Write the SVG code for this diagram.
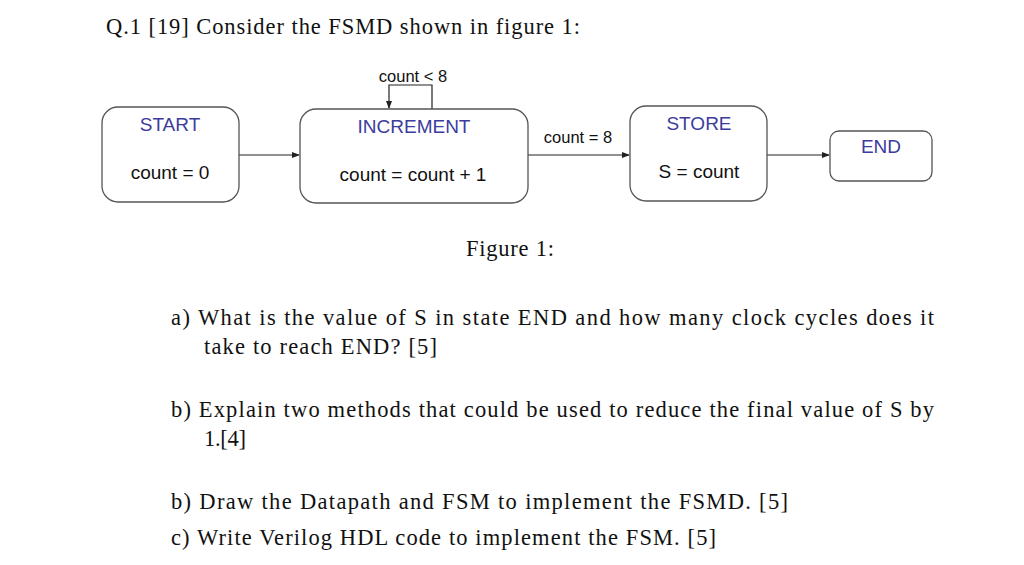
<svg xmlns="http://www.w3.org/2000/svg" width="1024" height="565" viewBox="0 0 1024 565">
<style>
.box{fill:#fff;stroke:#555;stroke-width:1.3}
.n{font-family:"Liberation Sans",Arial,sans-serif;font-size:19px;text-anchor:middle;fill:#3c3c9c}
.t{font-family:"Liberation Sans",Arial,sans-serif;font-size:19px;text-anchor:middle;fill:#111}
.s{font-family:"Liberation Sans",Arial,sans-serif;font-size:16.5px;text-anchor:middle;fill:#111}
.p{font-family:"Liberation Serif","Times New Roman",serif;font-size:22.5px;fill:#111}
.c{fill:none;stroke:#222;stroke-width:1.2}
</style>
<defs><marker id="a" markerWidth="8" markerHeight="6" refX="7" refY="3" orient="auto" markerUnits="userSpaceOnUse"><path d="M0,0 L8,3 L0,6 z" fill="#222"/></marker></defs>
<rect width="1024" height="565" fill="#fff"/>
<text class="p" x="106" y="34" textLength="474" lengthAdjust="spacing">Q.1  [19]  Consider the FSMD shown in figure 1:</text>
<g id="connectors">
<path class="c" d="M239,155 H299" marker-end="url(#a)"/>
<path class="c" d="M432,109 V85 H389 V108" marker-end="url(#a)"/>
<path class="c" d="M528,155 H629" marker-end="url(#a)"/>
<path class="c" d="M767,155 H829" marker-end="url(#a)"/>
<text class="s" x="413" y="82">count &lt; 8</text>
<text class="s" x="578" y="143">count = 8</text>
</g>
<g id="start"><rect class="box" x="102" y="107" width="137" height="95" rx="16"/><text class="n" x="170" y="131">START</text><text class="t" x="170" y="179">count = 0</text></g>
<g id="increment"><rect class="box" x="300" y="109" width="228" height="94" rx="16"/><text class="n" x="414" y="133">INCREMENT</text><text class="t" x="413" y="181">count = count + 1</text></g>
<g id="store"><rect class="box" x="630" y="106" width="137" height="95" rx="16"/><text class="n" x="699" y="130">STORE</text><text class="t" x="699" y="178">S = count</text></g>
<g id="end"><rect class="box" x="830" y="131" width="102" height="50" rx="9"/><text class="n" x="881" y="153">END</text></g>
<text class="p" x="466" y="256" textLength="88" lengthAdjust="spacing">Figure 1:</text>
<text class="p" x="171" y="325" textLength="763" lengthAdjust="spacing">a)  What is the value of S in state END and how many clock cycles does it</text>
<text class="p" x="204" y="354" textLength="233" lengthAdjust="spacing">take to reach END? [5]</text>
<text class="p" x="171" y="417" textLength="763" lengthAdjust="spacing">b)  Explain two methods that could be used to reduce the final value of S by</text>
<text class="p" x="204" y="446" textLength="42" lengthAdjust="spacing">1.[4]</text>
<text class="p" x="171" y="509" textLength="617" lengthAdjust="spacing">b)  Draw the Datapath and FSM to implement the FSMD. [5]</text>
<text class="p" x="171" y="545" textLength="545" lengthAdjust="spacing">c)  Write Verilog HDL code to implement the FSM. [5]</text>
</svg>
